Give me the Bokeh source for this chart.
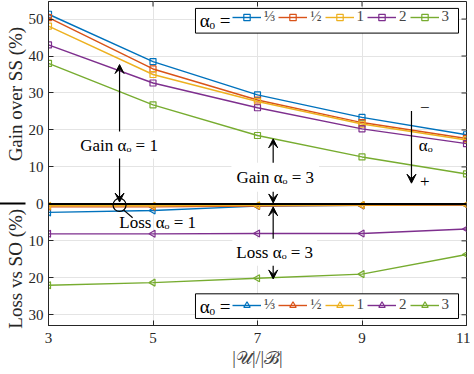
import numpy as np
from bokeh.plotting import figure
from bokeh.models import (Range1d, LinearAxis, FixedTicker, Label, Arrow, VeeHead,
                          Legend, LegendItem, Span, BoxAnnotation)
from bokeh.embed import file_html
from bokeh.resources import INLINE

# ---------------- data ----------------
x_vals = [3, 5, 7, 9, 11]
alpha_labels = ["⅓", "½", "1", "2", "3"]
colors = ["#0072BD", "#D95319", "#EDB120", "#7E2F8E", "#77AC30"]

gain_third = [51.3, 38.5, 29.5, 23.4, 18.7]
gain_half = [50.4, 36.5, 28.1, 22.0, 17.7]
gain_one = [48.1, 35.0, 27.7, 21.6, 17.3]
gain_two = [43.0, 32.7, 26.0, 20.3, 16.3]
gain_three = [38.0, 26.8, 18.5, 12.7, 8.1]

loss_third = [2.3, 1.8, 0.6, 0.4, 0.3]
loss_half = [0.8, 0.8, 0.6, 0.4, 0.3]
loss_one = [0.5, 0.5, 0.4, 0.3, 0.2]
loss_two = [8.1, 8.1, 8.0, 8.0, 6.8]
loss_three = [22.0, 21.3, 20.1, 19.0, 13.7]

gains = [gain_third, gain_half, gain_one, gain_two, gain_three]
losses = [loss_third, loss_half, loss_one, loss_two, loss_three]

x_ticks = [3, 5, 7, 9, 11]
y_ticks = [-30, -20, -10, 0, 10, 20, 30, 40, 50]
y_tick_labels = {t: str(abs(t)) for t in y_ticks}

FONT = "Liberation Serif"
AX = "#262626"
X0, X1 = 3, 11
Y0, Y1 = -32.9, 54.75
NB = "\u00a0"

p = figure(width=470, height=370, output_backend="svg", toolbar_location=None,
           x_range=Range1d(X0, X1), y_range=Range1d(Y0, Y1),
           min_border_left=48, min_border_right=4, min_border_top=1,
           min_border_bottom=40)
p.outline_line_color = AX
p.outline_line_width = 1
p.background_fill_color = "white"
p.border_fill_color = "white"

for ax in p.xaxis + p.yaxis:
    ax.major_tick_in = 5
    ax.major_tick_out = 0
    ax.minor_tick_line_color = None
    ax.axis_line_color = AX
    ax.major_tick_line_color = AX
    ax.major_label_text_font = FONT
    ax.major_label_text_font_size = "15px"
    ax.major_label_text_color = AX

p.xaxis.ticker = FixedTicker(ticks=x_ticks)
p.yaxis.ticker = FixedTicker(ticks=y_ticks)
p.yaxis.major_label_overrides = y_tick_labels
p.xaxis.major_label_standoff = 7
p.yaxis.major_label_standoff = 5
p.xaxis.axis_label = "|𝒰|/|ℬ|"
p.xaxis.axis_label_text_font = FONT
p.xaxis.axis_label_text_font_style = "normal"
p.xaxis.axis_label_text_font_size = "18px"
p.xaxis.axis_label_standoff = 2

# second left axis: carries the split y label and the zero stub
ylabel = ("Loss vs SO (%)" + NB * 10 + "Gain over SS (%)" + NB * 6)
ax2 = LinearAxis(ticker=FixedTicker(ticks=[0]), major_label_overrides={0: ""},
                 major_tick_out=26, major_tick_in=0, major_tick_line_color="black",
                 major_tick_line_width=2, axis_line_color=None,
                 minor_tick_line_color=None, major_label_standoff=0,
                 axis_label=ylabel, axis_label_standoff=-26,
                 axis_label_text_font=FONT, axis_label_text_font_size="19px",
                 axis_label_text_font_style="normal", axis_label_text_color=AX)
p.add_layout(ax2, "left")

# top / right inward ticks (box on)
p.ray(x=x_ticks, y=[Y1] * len(x_ticks), length=5, length_units="screen",
      angle=-np.pi / 2, line_color=AX, line_width=1)
p.ray(x=[X1] * len(y_ticks), y=y_ticks, length=5, length_units="screen",
      angle=np.pi, line_color=AX, line_width=1)

p.xgrid.ticker = FixedTicker(ticks=x_ticks)
p.ygrid.ticker = FixedTicker(ticks=y_ticks)
p.grid.grid_line_color = "#e4e4e4"
p.grid.grid_line_width = 1

# zero line
p.add_layout(Span(location=0, dimension="width", line_color="black", line_width=2))

# series
top_items, bot_items = [], []
for g, l, c, lab in zip(gains, losses, colors, alpha_labels):
    lr = p.line(x_vals, g, line_color=c, line_width=1.4)
    sr = p.scatter(x_vals, g, marker="square", size=6, line_color=c, fill_color=None, line_width=1.2)
    top_items.append(LegendItem(label=lab, renderers=[lr, sr]))
    neg = [-v for v in l]
    lr2 = p.line(x_vals, neg, line_color=c, line_width=1.4)
    sr2 = p.scatter(x_vals, neg, marker="triangle", angle=np.pi / 2, size=7, line_color=c,
                    fill_color=None, line_width=1.2)
    bot_items.append(LegendItem(label=lab, renderers=[lr2, sr2]))

def txt(x, y, s, bg=False, size="17px", align="center", pad=3):
    lb = Label(x=x, y=y, text=s, text_font=FONT, text_font_size=size,
               text_align=align, text_baseline="middle", text_color="black")
    if bg:
        lb.background_fill_color = "white"
        lb.padding = pad
    p.add_layout(lb)

def make_legend(items, loc, box, title_y):
    left, right, top, bottom = box
    p.add_layout(BoxAnnotation(left=left, right=right, top=top, bottom=bottom,
                               fill_color="white", fill_alpha=1, line_color="black",
                               line_width=1, line_alpha=1))
    lg = Legend(items=items, orientation="horizontal", location=loc,
                glyph_width=29, glyph_height=16, label_height=16, label_width=6,
                label_standoff=3, spacing=3, padding=0, margin=0,
                border_line_color=None, background_fill_alpha=0,
                label_text_font=FONT, label_text_font_size="15px")
    p.add_layout(lg, "center")
    txt(left + 0.08, title_y, "αₒ =", align="left", size="19px")

make_legend(top_items, (184, 300), (5.813, 10.847, 52.88, 46.2), 49.5)
make_legend(bot_items, (184, 12), (5.813, 10.847, -24.33, -31.0), -27.7)

def arrow(x0, y0, x1, y1):
    p.add_layout(Arrow(end=VeeHead(size=9, fill_color="black", line_color="black", line_width=1),
                       x_start=x0, y_start=y0, x_end=x1, y_end=y1,
                       line_color="black", line_width=1.2))

# Gain alpha=1
arrow(4.36, 18.0, 4.36, 37.7)
arrow(4.36, 13.6, 4.36, 0.5)
txt(4.35, 15.9, "Gain αₒ = 1", bg=True, pad=4)
# circle and loss alpha=1
p.scatter([4.36], [-0.29], marker="circle", size=13, fill_color=None, line_color="black", line_width=1.2)
p.add_layout(Arrow(end=None, x_start=4.435, y_start=-1.62, x_end=4.61, y_end=-3.76,
                   line_color="black", line_width=1.2))
txt(5.09, -5.1, "Loss αₒ = 1")

# Gain alpha=3
arrow(7.30, 9.6, 7.30, 17.6)
arrow(7.30, 4.8, 7.30, 0.25)
txt(7.34, 7.2, "Gain αₒ = 3", bg=True, pad=5)
# Loss alpha=3
arrow(7.30, -10.4, 7.30, -0.8)
arrow(7.30, -15.8, 7.30, -20.3)
txt(7.33, -13.1, "Loss αₒ = 3", bg=True, pad=4)

# alpha_o direction arrow
arrow(9.947, 25.1, 9.947, 5.6)
txt(10.20, 26.2, "−", size="17px")
txt(10.22, 15.7, "αₒ", size="17px")
txt(10.20, 6.1, "+", size="17px")

open("out.html", "w").write(file_html(p, INLINE))
